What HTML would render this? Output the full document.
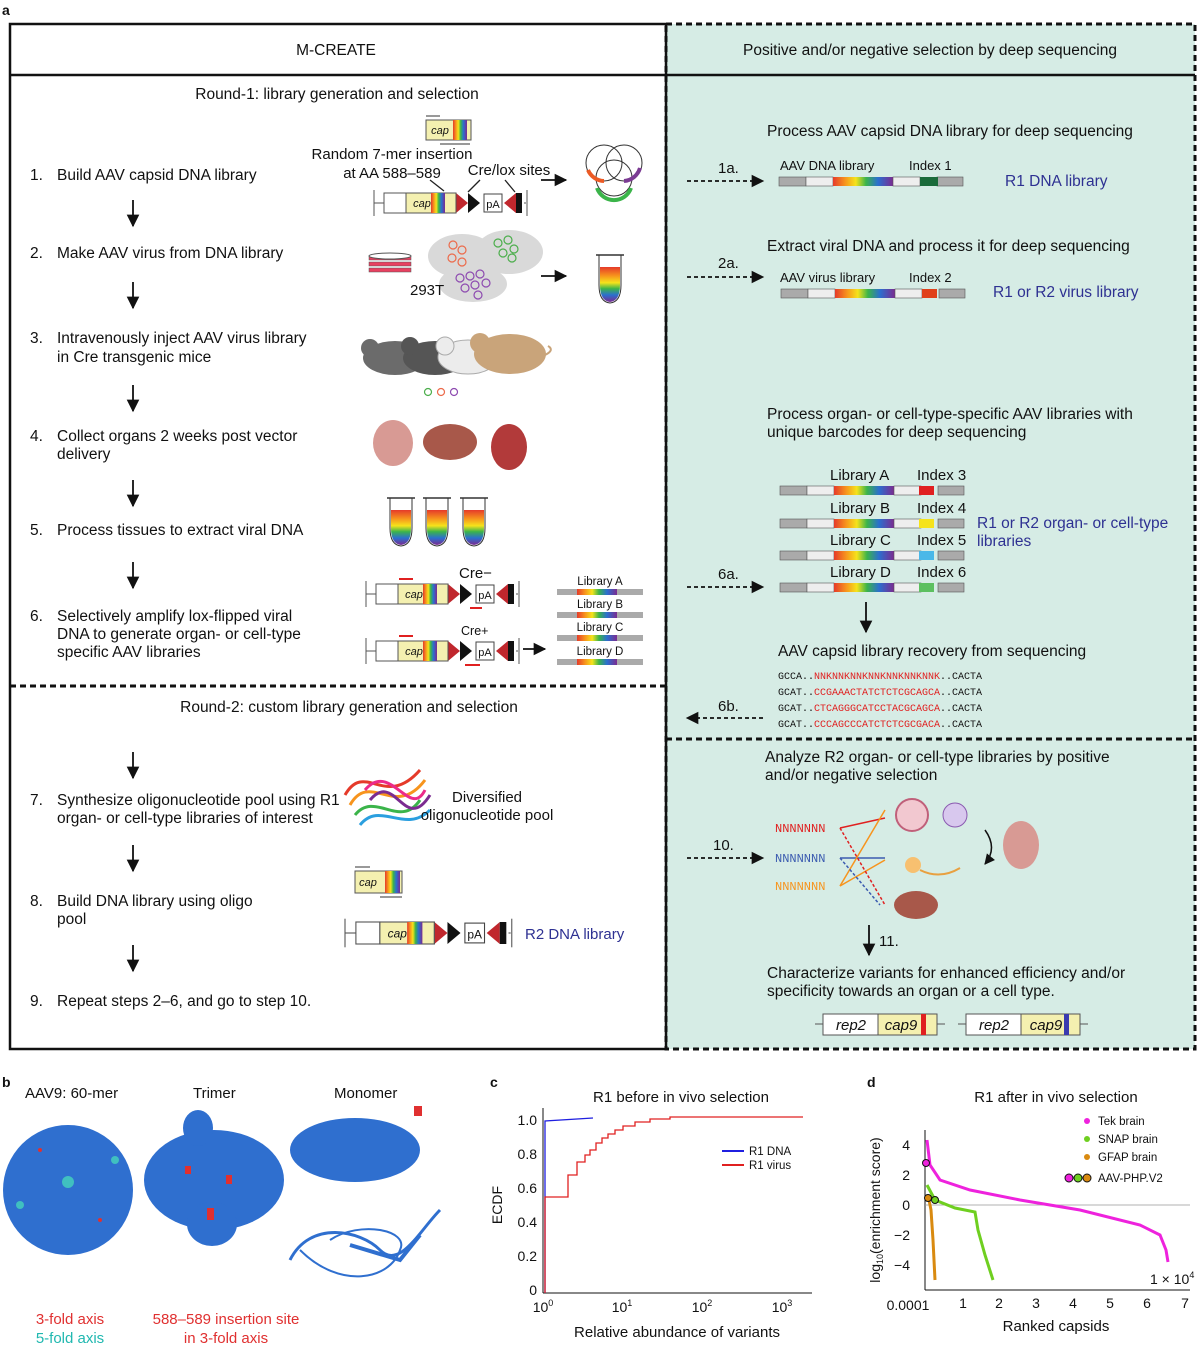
<!DOCTYPE html>
<html><head><meta charset="utf-8"><style>
html,body{margin:0;padding:0;background:#fff}
svg text{font-family:"Liberation Sans",Arial,sans-serif;fill:#111}
</style></head><body>
<svg width="1200" height="1347" viewBox="0 0 1200 1347" xmlns="http://www.w3.org/2000/svg">
<defs>
<linearGradient id="rb" x1="0" x2="1" y1="0" y2="0">
<stop offset="0" stop-color="#e53a2a"/><stop offset=".2" stop-color="#f7941d"/><stop offset=".38" stop-color="#f5e31b"/><stop offset=".55" stop-color="#3bb44a"/><stop offset=".75" stop-color="#2b6fcf"/><stop offset="1" stop-color="#7b2b90"/></linearGradient>
<linearGradient id="rbv" x1="0" x2="0" y1="0" y2="1">
<stop offset="0" stop-color="#e53a2a"/><stop offset=".25" stop-color="#f7941d"/><stop offset=".45" stop-color="#f5e31b"/><stop offset=".62" stop-color="#3bb44a"/><stop offset=".8" stop-color="#2b6fcf"/><stop offset="1" stop-color="#7b2b90"/></linearGradient>
<marker id="ah" viewBox="0 0 10 10" refX="9" refY="5" markerWidth="7" markerHeight="7" orient="auto"><path d="M0,0L10,5L0,10z" fill="#111"/></marker>
<g id="bar"><rect x="0" y="0" width="27" height="9" fill="#aaa" stroke="#555" stroke-width=".6"/><rect x="27" y="0" width="27" height="9" fill="#eee" stroke="#555" stroke-width=".6"/><rect x="54" y="0" width="60" height="9" fill="url(#rb)"/><rect x="114" y="0" width="27" height="9" fill="#eee" stroke="#555" stroke-width=".6"/><rect x="158" y="0" width="26" height="9" fill="#aaa" stroke="#555" stroke-width=".6"/></g>
<g id="tube"><path d="M-11,0 L11,0 L11,30 Q11,47 0,48 Q-11,47 -11,30 Z" fill="#fff" stroke="#333"/><path d="M-10,12 L10,12 L10,30 Q10,46 0,47 Q-10,46 -10,30 Z" fill="url(#rbv)"/><line x1="-14" y1="0" x2="14" y2="0" stroke="#333" stroke-width="1.5"/></g>
<g id="cons"><line x1="0" y1="-13" x2="0" y2="13" stroke="#555"/><line x1="0" y1="0" x2="10" y2="0" stroke="#555"/><rect x="10" y="-10" width="22" height="20" fill="#fff" stroke="#555"/><rect x="32" y="-10" width="50" height="20" fill="#f4f0b0" stroke="#555"/><rect x="57" y="-10" width="14" height="20" fill="url(#rb)"/><path d="M82,-10 L94,0 L82,10Z" fill="#c0272d"/><path d="M94,-10 L106,0 L94,10Z" fill="#111"/><line x1="82" y1="-10" x2="82" y2="10" stroke="#555"/><rect x="110" y="-9" width="18" height="18" fill="#fff" stroke="#444"/><text x="119" y="5" font-size="11" text-anchor="middle">pA</text><path d="M142,-10 L130,0 L142,10Z" fill="#c0272d"/><path d="M142,-10 L148,-10 L148,10 L142,10Z" fill="#111"/><line x1="150" y1="0" x2="152" y2="0" stroke="#555"/><line x1="153" y1="-13" x2="153" y2="13" stroke="#555"/><text x="48" y="4" font-size="11" font-style="italic" text-anchor="middle">cap</text></g>
</defs>

<text x="2" y="15" font-size="14" font-weight="bold">a</text>
<rect x="666" y="24" width="529" height="1025" fill="#d6ece5"/>
<rect x="666" y="24" width="529" height="1025" fill="none" stroke="#111" stroke-width="3" stroke-dasharray="6,4"/>
<line x1="666" y1="739" x2="1195" y2="739" stroke="#111" stroke-width="3" stroke-dasharray="6,4"/>
<rect x="10" y="24" width="656" height="1025" fill="none" stroke="#111" stroke-width="2.5"/>
<line x1="10" y1="75" x2="1195" y2="75" stroke="#111" stroke-width="2.5"/>
<line x1="10" y1="686" x2="666" y2="686" stroke="#111" stroke-width="3" stroke-dasharray="6,4"/>
<text x="336" y="55" font-size="15.5" text-anchor="middle">M-CREATE</text>
<text x="930" y="55" font-size="15.5" text-anchor="middle">Positive and/or negative selection by deep sequencing</text>
<text x="337" y="99" font-size="15.5" text-anchor="middle">Round-1: library generation and selection</text>
<text x="349" y="712" font-size="15.5" text-anchor="middle">Round-2: custom library generation and selection</text>

<g font-size="15.5">
<text x="30" y="180">1.</text><text x="57" y="180">Build AAV capsid DNA library</text>
<text x="30" y="258">2.</text><text x="57" y="258">Make AAV virus from DNA library</text>
<text x="30" y="343">3.</text><text x="57" y="343">Intravenously inject AAV virus library</text><text x="57" y="362">in Cre transgenic mice</text>
<text x="30" y="441">4.</text><text x="57" y="441">Collect organs 2 weeks post vector</text><text x="57" y="459">delivery</text>
<text x="30" y="535">5.</text><text x="57" y="535">Process tissues to extract viral DNA</text>
<text x="30" y="621">6.</text><text x="57" y="621">Selectively amplify lox-flipped viral</text><text x="57" y="639">DNA to generate organ- or cell-type</text><text x="57" y="657">specific AAV libraries</text>
<text x="30" y="805">7.</text><text x="57" y="805">Synthesize oligonucleotide pool using R1</text><text x="57" y="823">organ- or cell-type libraries of interest</text>
<text x="30" y="906">8.</text><text x="57" y="906">Build DNA library using oligo</text><text x="57" y="924">pool</text>
<text x="30" y="1006">9.</text><text x="57" y="1006">Repeat steps 2–6, and go to step 10.</text>
</g>
<g stroke="#111" stroke-width="1.8" marker-end="url(#ah)">
<line x1="133" y1="200" x2="133" y2="226"/><line x1="133" y1="282" x2="133" y2="308"/><line x1="133" y1="385" x2="133" y2="411"/><line x1="133" y1="480" x2="133" y2="506"/><line x1="133" y1="562" x2="133" y2="588"/><line x1="133" y1="752" x2="133" y2="778"/><line x1="133" y1="845" x2="133" y2="871"/><line x1="133" y1="945" x2="133" y2="971"/>
<line x1="541" y1="180" x2="566" y2="180"/><line x1="541" y1="276" x2="566" y2="276"/><line x1="523" y1="649" x2="545" y2="649"/>
</g>
<rect x="426" y="120" width="45" height="20" fill="#f4f0b0" stroke="#555"/><rect x="453" y="120" width="14" height="20" fill="url(#rb)"/><text x="440" y="134" font-size="11" font-style="italic" text-anchor="middle">cap</text>
<line x1="426" y1="116" x2="440" y2="116" stroke="#333"/><line x1="440" y1="144" x2="470" y2="144" stroke="#333"/>
<text x="392" y="159" font-size="15" text-anchor="middle">Random 7-mer insertion</text><text x="392" y="178" font-size="15" text-anchor="middle">at AA 588–589</text>
<text x="509" y="175" font-size="15" text-anchor="middle">Cre/lox sites</text>
<use href="#cons" x="374" y="203"/>
<g stroke="#222" stroke-width="1.3"><line x1="430" y1="180" x2="444" y2="191"/><line x1="480" y1="180" x2="468" y2="192"/><line x1="505" y1="180" x2="515" y2="192"/></g>
<g fill="none" stroke="#333"><circle cx="604" cy="163" r="18"/><circle cx="624" cy="163" r="18"/><circle cx="614" cy="178" r="18"/></g>
<path d="M588,170 A18,18 0 0 0 604,181" fill="none" stroke="#ec5a24" stroke-width="4"/><path d="M624,181 A18,18 0 0 0 640,168" fill="none" stroke="#7b3b93" stroke-width="4"/><path d="M597,188 A18,18 0 0 0 631,188" fill="none" stroke="#3bb44a" stroke-width="4"/>
<g fill="#e84060" stroke="#555" stroke-width=".5"><rect x="369" y="256" width="42" height="4"/><rect x="369" y="262" width="42" height="4"/><rect x="369" y="268" width="42" height="4"/></g><ellipse cx="390" cy="256" rx="21" ry="3" fill="#fff" stroke="#555"/>
<ellipse cx="462" cy="256" rx="34" ry="22" fill="#d9d9d9"/><ellipse cx="509" cy="252" rx="34" ry="22" fill="#d9d9d9"/><ellipse cx="473" cy="284" rx="34" ry="18" fill="#d9d9d9"/>
<text x="410" y="295" font-size="15">293T</text>
<g fill="none" stroke-width="1.2"><g stroke="#ec6a4a"><circle cx="453" cy="245" r="4"/><circle cx="462" cy="250" r="4"/><circle cx="452" cy="258" r="4"/><circle cx="462" cy="262" r="4"/></g><g stroke="#4cae4c"><circle cx="498" cy="243" r="4"/><circle cx="508" cy="240" r="4"/><circle cx="503" cy="253" r="4"/><circle cx="514" cy="249" r="4"/><circle cx="512" cy="258" r="4"/></g><g stroke="#8d4ab0"><circle cx="460" cy="278" r="4"/><circle cx="470" cy="276" r="4"/><circle cx="480" cy="274" r="4"/><circle cx="465" cy="288" r="4"/><circle cx="475" cy="285" r="4"/><circle cx="486" cy="283" r="4"/><circle cx="478" cy="295" r="4"/></g></g>
<use href="#tube" x="610" y="255"/>
<ellipse cx="395" cy="358" rx="32" ry="17" fill="#6b6b6b"/><circle cx="370" cy="348" r="9" fill="#6b6b6b"/>
<ellipse cx="435" cy="358" rx="32" ry="17" fill="#555"/><circle cx="410" cy="346" r="9" fill="#555"/>
<ellipse cx="468" cy="357" rx="30" ry="17" fill="#ececec" stroke="#aaa"/><circle cx="445" cy="346" r="9" fill="#ececec" stroke="#aaa"/>
<ellipse cx="510" cy="354" rx="36" ry="20" fill="#c9a47a"/><circle cx="480" cy="343" r="10" fill="#c9a47a"/><path d="M545,355 Q555,350 548,346" stroke="#c9a47a" fill="none" stroke-width="2"/>
<g fill="none" stroke-width="1.2"><circle cx="428" cy="392" r="3.5" stroke="#4cae4c"/><circle cx="441" cy="392" r="3.5" stroke="#ec6a4a"/><circle cx="454" cy="392" r="3.5" stroke="#8d4ab0"/></g>
<ellipse cx="393" cy="443" rx="20" ry="23" fill="#d89a94"/><ellipse cx="450" cy="442" rx="27" ry="18" fill="#a8584a"/><ellipse cx="509" cy="447" rx="18" ry="23" fill="#b23a3a"/>
<use href="#tube" x="401" y="498"/><use href="#tube" x="437" y="498"/><use href="#tube" x="474" y="498"/>
<text x="459" y="578" font-size="15">Cre−</text><use href="#cons" x="366" y="594"/>
<text x="461" y="635" font-size="12.5">Cre+</text><use href="#cons" x="366" y="651"/>
<g stroke="#e02020" stroke-width="2"><line x1="399" y1="579" x2="413" y2="579"/><line x1="470" y1="608" x2="482" y2="608"/><line x1="399" y1="636" x2="413" y2="636"/><line x1="465" y1="665" x2="480" y2="665"/></g>
<g font-size="11.5" text-anchor="middle"><text x="600" y="585">Library A</text><text x="600" y="608">Library B</text><text x="600" y="631">Library C</text><text x="600" y="655">Library D</text></g>
<g><rect x="557" y="589" width="86" height="6" fill="#aaa"/><rect x="577" y="589" width="40" height="6" fill="url(#rb)"/><rect x="557" y="612" width="86" height="6" fill="#aaa"/><rect x="577" y="612" width="40" height="6" fill="url(#rb)"/><rect x="557" y="635" width="86" height="6" fill="#aaa"/><rect x="577" y="635" width="40" height="6" fill="url(#rb)"/><rect x="557" y="659" width="86" height="6" fill="#aaa"/><rect x="577" y="659" width="40" height="6" fill="url(#rb)"/></g>
<g fill="none" stroke-width="3"><path d="M345,795 C365,760 385,810 420,770" stroke="#e53a2a"/><path d="M350,805 C370,770 395,820 425,780" stroke="#f7941d"/><path d="M355,815 C375,790 400,830 420,800" stroke="#3bb44a"/><path d="M360,825 C380,800 405,835 430,810" stroke="#2b9fdf"/><path d="M370,800 C395,770 405,835 430,795" stroke="#7b2b90"/><path d="M365,790 C390,760 410,820 425,790" stroke="#ec2a8a"/></g>
<text x="487" y="802" font-size="15" text-anchor="middle">Diversified</text><text x="487" y="820" font-size="15" text-anchor="middle">oligonucleotide pool</text>
<rect x="355" y="871" width="47" height="22" fill="#f4f0b0" stroke="#555"/><rect x="385" y="871" width="15" height="22" fill="url(#rb)"/><text x="368" y="886" font-size="11" font-style="italic" text-anchor="middle">cap</text>
<line x1="355" y1="867" x2="370" y2="867" stroke="#333"/><line x1="380" y1="897" x2="402" y2="897" stroke="#333"/>
<use href="#cons" transform="translate(345,933) scale(1.09 1.1)"/>
<text x="525" y="939" font-size="15" style="fill:#2e3192">R2 DNA library</text>

<text x="767" y="136" font-size="15.5">Process AAV capsid DNA library for deep sequencing</text>
<text x="767" y="251" font-size="15.5">Extract viral DNA and process it for deep sequencing</text>
<text x="767" y="419" font-size="15.5">Process organ- or cell-type-specific AAV libraries with</text><text x="767" y="437" font-size="15.5">unique barcodes for deep sequencing</text>
<g stroke="#111" stroke-width="1.8" stroke-dasharray="4,3" marker-end="url(#ah)"><line x1="687" y1="181" x2="763" y2="181"/><line x1="687" y1="277" x2="763" y2="277"/><line x1="687" y1="587" x2="763" y2="587"/><line x1="763" y1="718" x2="687" y2="718"/><line x1="687" y1="858" x2="763" y2="858"/></g>
<g font-size="15"><text x="718" y="173">1a.</text><text x="718" y="268">2a.</text><text x="718" y="579">6a.</text><text x="718" y="711">6b.</text><text x="713" y="850">10.</text></g>
<text x="780" y="170" font-size="13">AAV DNA library</text><text x="909" y="170" font-size="13">Index 1</text>
<use href="#bar" x="779" y="177"/><rect x="920" y="177" width="18" height="9" fill="#1a6b3a"/>
<text x="1005" y="186" font-size="15.5" style="fill:#2e3192">R1 DNA library</text>
<text x="780" y="282" font-size="13">AAV virus library</text><text x="909" y="282" font-size="13">Index 2</text>
<use href="#bar" x="781" y="289"/><rect x="922" y="289" width="15" height="9" fill="#e0401a"/>
<text x="993" y="297" font-size="15.5" style="fill:#2e3192">R1 or R2 virus library</text>
<g font-size="15"><text x="830" y="480">Library A</text><text x="917" y="480">Index 3</text><text x="830" y="513">Library B</text><text x="917" y="513">Index 4</text><text x="830" y="545">Library C</text><text x="917" y="545">Index 5</text><text x="830" y="577">Library D</text><text x="917" y="577">Index 6</text></g>
<use href="#bar" x="780" y="486"/><rect x="919" y="486" width="15" height="9" fill="#e02020"/>
<use href="#bar" x="780" y="519"/><rect x="919" y="519" width="15" height="9" fill="#f5e31b"/>
<use href="#bar" x="780" y="551"/><rect x="919" y="551" width="15" height="9" fill="#4ab8e8"/>
<use href="#bar" x="780" y="583"/><rect x="919" y="583" width="15" height="9" fill="#5cc060"/>
<text x="977" y="528" font-size="15.5" style="fill:#2e3192">R1 or R2 organ- or cell-type</text><text x="977" y="546" font-size="15.5" style="fill:#2e3192">libraries</text>
<line x1="866" y1="602" x2="866" y2="632" stroke="#111" stroke-width="1.8" marker-end="url(#ah)"/>
<text x="778" y="656" font-size="15.5">AAV capsid library recovery from sequencing</text>
<g font-size="10" style="font-family:'Liberation Mono',monospace">
<text x="778" y="679" style="font-family:'Liberation Mono',monospace">GCCA..<tspan style="fill:#e02020">NNKNNKNNKNNKNNKNNKNNK</tspan>..CACTA</text>
<text x="778" y="695" style="font-family:'Liberation Mono',monospace">GCAT..<tspan style="fill:#e02020">CCGAAACTATCTCTCGCAGCA</tspan>..CACTA</text>
<text x="778" y="711" style="font-family:'Liberation Mono',monospace">GCAT..<tspan style="fill:#e02020">CTCAGGGCATCCTACGCAGCA</tspan>..CACTA</text>
<text x="778" y="727" style="font-family:'Liberation Mono',monospace">GCAT..<tspan style="fill:#e02020">CCCAGCCCATCTCTCGCGACA</tspan>..CACTA</text>
</g>
<text x="765" y="762" font-size="15.5">Analyze R2 organ- or cell-type libraries by positive</text><text x="765" y="780" font-size="15.5">and/or negative selection</text>
<g font-size="12" style="font-family:'Liberation Mono',monospace"><text x="775" y="832" style="fill:#e02020;font-family:'Liberation Mono',monospace">NNNNNNN</text><text x="775" y="862" style="fill:#3b5bb0;font-family:'Liberation Mono',monospace">NNNNNNN</text><text x="775" y="890" style="fill:#f7941d;font-family:'Liberation Mono',monospace">NNNNNNN</text></g>
<g stroke-width="1.5" fill="none"><line x1="840" y1="828" x2="885" y2="818" stroke="#e02020"/><line x1="840" y1="858" x2="885" y2="858" stroke="#3b5bb0"/><line x1="840" y1="886" x2="885" y2="810" stroke="#f7941d"/><line x1="840" y1="886" x2="885" y2="860" stroke="#f7941d"/><line x1="840" y1="858" x2="880" y2="905" stroke="#3b5bb0" stroke-dasharray="3,2"/><line x1="840" y1="828" x2="885" y2="905" stroke="#e02020" stroke-dasharray="3,2"/></g>
<circle cx="912" cy="815" r="16" fill="#f2c8d0" stroke="#c0607a" stroke-width="2"/><circle cx="955" cy="815" r="12" fill="#d8c8ee" stroke="#8a5ab0"/><circle cx="913" cy="865" r="8" fill="#f7c070"/><path d="M920,870 Q940,880 960,868" stroke="#e8a040" fill="none" stroke-width="2"/>
<ellipse cx="916" cy="905" rx="22" ry="14" fill="#a8584a"/><ellipse cx="1021" cy="845" rx="18" ry="24" fill="#d89a94"/>
<path d="M985,830 Q998,848 985,864" fill="none" stroke="#111" stroke-width="1.5" marker-end="url(#ah)"/>
<line x1="869" y1="925" x2="869" y2="955" stroke="#111" stroke-width="1.8" marker-end="url(#ah)"/><text x="879" y="946" font-size="15">11.</text>
<text x="767" y="978" font-size="15.5">Characterize variants for enhanced efficiency and/or</text><text x="767" y="996" font-size="15.5">specificity towards an organ or a cell type.</text>
<g><line x1="815" y1="1024" x2="945" y2="1024" stroke="#555"/><rect x="823" y="1014" width="55" height="21" fill="#fff" stroke="#555"/><rect x="878" y="1014" width="59" height="21" fill="#f4f0b0" stroke="#555"/><rect x="921" y="1014" width="5" height="21" fill="#e02020"/><text x="851" y="1030" font-size="15" font-style="italic" text-anchor="middle">rep2</text><text x="901" y="1030" font-size="15" font-style="italic" text-anchor="middle">cap9</text>
<line x1="958" y1="1024" x2="1088" y2="1024" stroke="#555"/><rect x="966" y="1014" width="55" height="21" fill="#fff" stroke="#555"/><rect x="1021" y="1014" width="59" height="21" fill="#f4f0b0" stroke="#555"/><rect x="1064" y="1014" width="5" height="21" fill="#3b3bb0"/><text x="994" y="1030" font-size="15" font-style="italic" text-anchor="middle">rep2</text><text x="1046" y="1030" font-size="15" font-style="italic" text-anchor="middle">cap9</text></g>

<text x="2" y="1087" font-size="14" font-weight="bold">b</text>
<g font-size="15"><text x="25" y="1098">AAV9: 60-mer</text><text x="193" y="1098">Trimer</text><text x="334" y="1098">Monomer</text></g>
<circle cx="68" cy="1190" r="65" fill="#2f6fcf"/><circle cx="68" cy="1182" r="6" fill="#40c0c0"/><circle cx="20" cy="1205" r="4" fill="#40c0c0"/><circle cx="115" cy="1160" r="4" fill="#40c0c0"/><circle cx="40" cy="1150" r="2" fill="#e03030"/><circle cx="100" cy="1220" r="2" fill="#e03030"/>
<ellipse cx="214" cy="1180" rx="70" ry="50" fill="#2f6fcf"/><ellipse cx="198" cy="1128" rx="15" ry="18" fill="#2f6fcf"/><ellipse cx="212" cy="1224" rx="25" ry="22" fill="#2f6fcf"/><rect x="207" y="1208" width="7" height="12" fill="#e03030"/><rect x="226" y="1175" width="6" height="9" fill="#e03030"/><rect x="185" y="1166" width="6" height="8" fill="#e03030"/>
<ellipse cx="355" cy="1150" rx="65" ry="32" fill="#2f6fcf"/><rect x="414" y="1106" width="8" height="10" fill="#e03030"/>
<path d="M290,1260 C310,1220 360,1230 380,1250 C400,1270 420,1230 440,1210" fill="none" stroke="#2f6fcf" stroke-width="3"/><path d="M300,1250 C340,1290 390,1280 400,1250 C410,1230 360,1220 330,1240" fill="none" stroke="#2f6fcf" stroke-width="2"/><path d="M350,1245 L400,1260 L420,1235" fill="none" stroke="#2f6fcf" stroke-width="4"/>
<g font-size="15" text-anchor="middle"><text x="70" y="1324" style="fill:#e03030">3-fold axis</text><text x="70" y="1343" style="fill:#20b8b0">5-fold axis</text><text x="226" y="1324" style="fill:#e03030">588–589 insertion site</text><text x="226" y="1343" style="fill:#e03030">in 3-fold axis</text></g>

<text x="490" y="1087" font-size="14" font-weight="bold">c</text>
<text x="681" y="1102" font-size="15" text-anchor="middle">R1 before in vivo selection</text>
<g stroke="#111" stroke-width="1"><line x1="543" y1="1108" x2="543" y2="1293"/><line x1="543" y1="1293" x2="812" y2="1293"/></g>
<g font-size="14" text-anchor="end"><text x="537" y="1125">1.0</text><text x="537" y="1159">0.8</text><text x="537" y="1193">0.6</text><text x="537" y="1227">0.4</text><text x="537" y="1261">0.2</text><text x="537" y="1295">0</text></g>
<g font-size="14" text-anchor="middle"><text x="543" y="1312">10<tspan dy="-6" font-size="9">0</tspan></text><text x="622" y="1312">10<tspan dy="-6" font-size="9">1</tspan></text><text x="702" y="1312">10<tspan dy="-6" font-size="9">2</tspan></text><text x="782" y="1312">10<tspan dy="-6" font-size="9">3</tspan></text></g>
<text x="677" y="1337" font-size="15" text-anchor="middle">Relative abundance of variants</text>
<text x="502" y="1205" font-size="14" text-anchor="middle" transform="rotate(-90 502 1205)">ECDF</text>
<path d="M545,1293 L545,1121 L593,1118" fill="none" stroke="#1f1fe0" stroke-width="1.3"/>
<path d="M545,1293 L545,1197 L568,1197 L568,1175 L577,1175 L577,1162 L585,1162 L585,1155 L590,1155 L590,1150 L596,1150 L596,1143 L602,1143 L602,1138 L608,1138 L608,1134 L615,1134 L615,1130 L623,1130 L623,1126 L635,1126 L635,1122 L650,1122 L650,1119 L670,1119 L670,1117 L803,1117" fill="none" stroke="#e02020" stroke-width="1.3"/>
<line x1="722" y1="1151" x2="744" y2="1151" stroke="#1f1fe0" stroke-width="2"/><text x="749" y="1155" font-size="11.5">R1 DNA</text>
<line x1="722" y1="1165" x2="744" y2="1165" stroke="#e02020" stroke-width="2"/><text x="749" y="1169" font-size="11.5">R1 virus</text>

<text x="867" y="1087" font-size="14" font-weight="bold">d</text>
<text x="1056" y="1102" font-size="15" text-anchor="middle">R1 after in vivo selection</text>
<g stroke="#111"><line x1="925" y1="1130" x2="925" y2="1290"/><line x1="925" y1="1290" x2="1190" y2="1290"/></g>
<line x1="925" y1="1205" x2="1190" y2="1205" stroke="#999" stroke-width=".8"/>
<g font-size="14" text-anchor="end"><text x="910" y="1150">4</text><text x="910" y="1180">2</text><text x="910" y="1210">0</text><text x="910" y="1240">−2</text><text x="910" y="1270">−4</text></g>
<g font-size="14" text-anchor="middle"><text x="908" y="1310">0.0001</text><text x="963" y="1308">1</text><text x="999" y="1308">2</text><text x="1036" y="1308">3</text><text x="1073" y="1308">4</text><text x="1110" y="1308">5</text><text x="1147" y="1308">6</text><text x="1185" y="1308">7</text></g>
<text x="1056" y="1331" font-size="15" text-anchor="middle">Ranked capsids</text>
<text x="880" y="1210" font-size="14" text-anchor="middle" transform="rotate(-90 880 1210)">log<tspan font-size="9" dy="3">10</tspan><tspan dy="-3">(enrichment score)</tspan></text>
<text x="1150" y="1284" font-size="14">1 × 10<tspan font-size="9" dy="-6">4</tspan></text>
<path d="M927,1140 L930,1165 L940,1180 L970,1190 L1020,1200 L1080,1210 L1140,1225 L1160,1235 L1166,1250 L1168,1262" fill="none" stroke="#ee22dd" stroke-width="3"/>
<path d="M927,1185 L935,1200 L955,1208 L975,1212 L978,1230 L985,1255 L993,1280" fill="none" stroke="#6fcf20" stroke-width="3"/>
<path d="M928,1195 L931,1210 L933,1240 L935,1280" fill="none" stroke="#d98a10" stroke-width="3"/>
<circle cx="926" cy="1163" r="3.5" fill="#ee22dd" stroke="#111"/><circle cx="928" cy="1198" r="3.5" fill="#d98a10" stroke="#111"/><circle cx="935" cy="1200" r="3.5" fill="#6fcf20" stroke="#111"/>
<g font-size="11.5"><circle cx="1087" cy="1121" r="3" fill="#ee22dd"/><text x="1098" y="1125">Tek brain</text><circle cx="1087" cy="1139" r="3" fill="#6fcf20"/><text x="1098" y="1143">SNAP brain</text><circle cx="1087" cy="1157" r="3" fill="#d98a10"/><text x="1098" y="1161">GFAP brain</text>
<circle cx="1069" cy="1178" r="4" fill="#ee22dd" stroke="#111"/><circle cx="1078" cy="1178" r="4" fill="#6fcf20" stroke="#111"/><circle cx="1087" cy="1178" r="4" fill="#d98a10" stroke="#111"/><text x="1098" y="1182">AAV-PHP.V2</text></g>
</svg>
</body></html>
